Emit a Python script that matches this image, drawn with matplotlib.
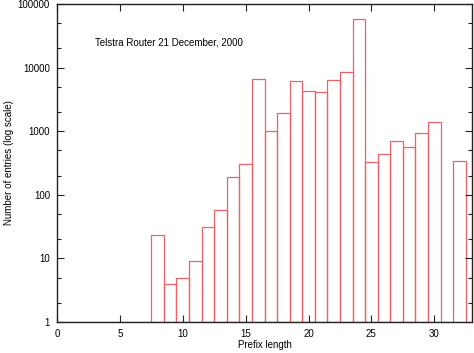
import matplotlib
matplotlib.use("Agg")
import matplotlib.pyplot as plt
from matplotlib.ticker import LogLocator, FixedLocator, NullFormatter

plt.rcParams['font.family'] = ['Liberation Sans', 'DejaVu Sans']

prefix_lengths = list(range(0, 33))
counts = [1, 1, 1, 1, 1, 1, 1, 1,
          23, 4, 5, 9.1, 31.5, 58, 188, 300,
          6700, 1000, 1950, 6200, 4330, 4130, 6300, 8430,
          57500, 324, 433, 710, 563, 947, 1410, 1, 336]
x_ticks = [0, 5, 10, 15, 20, 25, 30]
y_ticks = [1, 10, 100, 1000, 10000, 100000]
y_tick_labels = ['1', '10', '100', '1000', '10000', '100000']
title_text = 'Telstra Router 21 December, 2000'

fig = plt.figure(figsize=(4.74, 3.53), dpi=100)
ax = fig.add_axes([57/474, 1 - 322/353, (472-57)/474, (322-4)/353])

ax.bar(prefix_lengths, [c - 1 for c in counts], bottom=1, width=1.0,
       fill=False, edgecolor='#e8646a', linewidth=0.9, align='center')

ax.set_yscale('log')
ax.set_xlim(0, 33)
ax.set_ylim(1, 100000)
ax.xaxis.set_major_locator(FixedLocator(x_ticks))
ax.set_xticklabels([str(t) for t in x_ticks])
ax.yaxis.set_major_locator(FixedLocator(y_ticks))
ax.set_yticklabels(y_tick_labels)
ax.yaxis.set_minor_locator(LogLocator(base=10, subs=[2, 5], numticks=20))
ax.yaxis.set_minor_formatter(NullFormatter())

ax.tick_params(which='both', direction='in', top=True, right=True,
               labelsize=7, pad=5, width=0.8, color='#222222')
ax.tick_params(which='major', length=5)
ax.tick_params(which='minor', length=3)
for s in ax.spines.values():
    s.set_linewidth(1.0)
    s.set_color('#222222')

ax.text(3.0, 24500, title_text, fontsize=7, ha='left', va='center')
ax.set_xlabel('Prefix length', fontsize=7)
ax.set_ylabel('Number of entries (log scale)', fontsize=7)
ax.xaxis.set_label_coords(0.5, -18/318)
ax.yaxis.set_label_coords(-43/415, 0.5)

fig.savefig('out.png', dpi=100)
